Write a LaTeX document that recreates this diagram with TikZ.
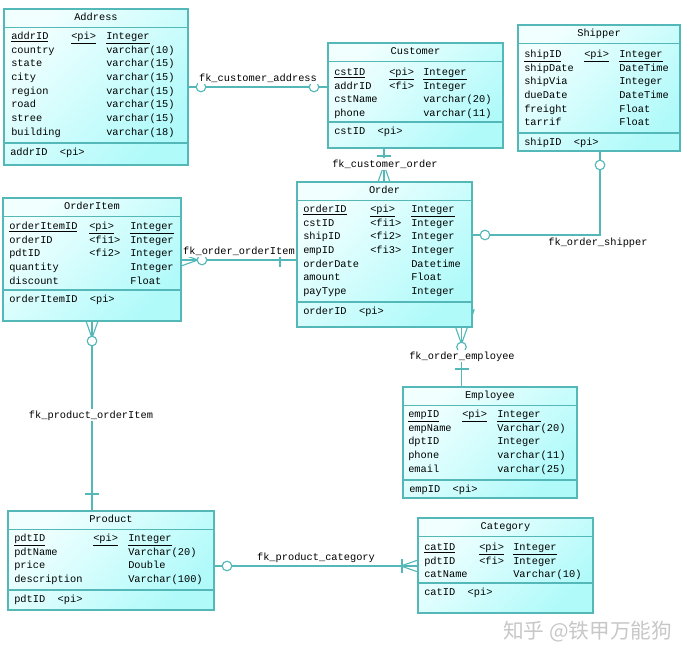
\documentclass[tikz,border=0pt]{standalone}
\usepackage{fontspec}
\setmonofont{Liberation Mono}
\newfontfamily\markfont{Noto Sans CJK SC}
\usepackage{tikz}
\definecolor{edgeteal}{HTML}{55B8B8}
\definecolor{paleaqua}{HTML}{F2FFFF}
\definecolor{deepaqua}{HTML}{B0FAFA}
\tikzset{
	entitybox/.style={draw=edgeteal, line width=0.85pt, shading=axis, top color=paleaqua, bottom color=deepaqua, shading angle=45, inner sep=0pt, outer sep=0pt, anchor=north west},
	entityline/.style={draw=edgeteal, line width=0.85pt},
	relline/.style={draw=edgeteal, line width=0.85pt},
	optcircle/.style={circle, draw=edgeteal, line width=0.85pt, fill=white, minimum size=7.2pt, inner sep=0pt},
	erhead/.style={font=\ttfamily\fontsize{7.75}{9}\selectfont, inner sep=0pt, text height=7pt, text depth=2pt},
	attrtext/.style={erhead, anchor=west},
	fklabel/.style={erhead, text height=6pt, text depth=1.5pt, fill=white, inner xsep=1pt, inner ysep=0.5pt}
}
\newcommand{\entity}[8]{
	\node[entitybox, minimum width={(#5-#3)*0.75pt}, minimum height={(#6-#4)*0.75pt}] (#1) at (#3,#4) {};
	\draw[entityline] (#1.west |- 0,{#4+18.5}) -- (#1.east |- 0,{#4+18.5});
	\draw[entityline] (#1.west |- 0,#7) -- (#1.east |- 0,#7);
	\node[erhead] (#1-title) at (#1.north |- 0,{#4+8.3}) {#2};
	\node[attrtext] (#1-key) at ({#3+6},{#7+9}) {#8};
}
\newcommand{\attrs}[6]{
	\foreach \fname/\fkey/\ftype [count=\i] in {#6} {
		\node[attrtext] (#1-a\i) at (#2,{#5+(\i-1)*13.7}) {\fname};
		\ifx\fkey\empty\else
			\node[attrtext] (#1-k\i) at (#3,{#5+(\i-1)*13.7}) {\fkey};
		\fi
		\node[attrtext] (#1-t\i) at (#4,{#5+(\i-1)*13.7}) {\ftype};
	}
}
\newcommand{\crowfoot}{\draw[relline] (0,-6) -- (17,0);
					\draw[relline] (0,0) -- (17,0);
					\draw[relline] (0,6) -- (17,0);}
\newcommand{\crossbar}{\draw[relline] (0,-7) -- (0,7);}
\begin{document}
\begin{tikzpicture}[x=0.75pt, y=-0.75pt]
	\useasboundingbox (0,0) rectangle (689,658);

	\entity{address}{Address}{4}{9}{188}{165}{143}{addrID~~<pi>}
	\attrs{address}{11}{71}{106}{36}{\underline{addrID}/\underline{<pi>}/\underline{Integer}, country//varchar(10), state//varchar(15), city//varchar(15), region//varchar(15), road//varchar(15), stree//varchar(15), building//varchar(18)}

	\entity{customer}{Customer}{328}{43}{503}{148}{122}{cstID~~<pi>}
	\attrs{customer}{334}{389}{423}{72}{\underline{cstID}/\underline{<pi>}/\underline{Integer}, addrID/<fi>/Integer, cstName//varchar(20), phone//varchar(11)}

	\entity{shipper}{Shipper}{518}{25}{680}{151}{133}{shipID~~<pi>}
	\attrs{shipper}{524}{584}{619}{54}{\underline{shipID}/\underline{<pi>}/\underline{Integer}, shipDate//DateTime, shipVia//Integer, dueDate//DateTime, freight//Float, tarrif//Float}

	\entity{order}{Order}{297}{182}{472}{327}{302}{orderID~~<pi>}
	\attrs{order}{303}{370}{411}{209}{\underline{orderID}/\underline{<pi>}/\underline{Integer}, cstID/<fi1>/Integer, shipID/<fi2>/Integer, empID/<fi3>/Integer, orderDate//Datetime, amount//Float, payType//Integer}

	\entity{orderitem}{OrderItem}{3}{198}{181}{321}{290}{orderItemID~~<pi>}
	\attrs{orderitem}{9}{89}{130}{226}{\underline{orderItemID}/\underline{<pi>}/\underline{Integer}, orderID/<fi1>/Integer, pdtID/<fi2>/Integer, quantity//Integer, discount//Float}

	\entity{employee}{Employee}{403}{387}{577}{498}{480}{empID~~<pi>}
	\attrs{employee}{408}{462}{497}{414}{\underline{empID}/\underline{<pi>}/\underline{Integer}, empName//Varchar(20), dptID//Integer, phone//varchar(11), email//varchar(25)}

	\entity{product}{Product}{8}{511}{214}{610}{590}{pdtID~~<pi>}
	\attrs{product}{14}{93}{128}{538}{\underline{pdtID}/\underline{<pi>}/\underline{Integer}, pdtName//Varchar(20), price//Double, description//Varchar(100)}

	\entity{category}{Category}{418}{518}{593}{613}{583}{catID~~<pi>}
	\attrs{category}{424}{479}{513}{547}{\underline{catID}/\underline{<pi>}/\underline{Integer}, pdtID/<fi>/Integer, catName//Varchar(10)}

	\coordinate (fkca) at (258,87);
	\coordinate (fkco) at (384,165);
	\coordinate (fkoi) at (239,260);
	\coordinate (fkoe) at (461.5,356);
	\coordinate (fkpo) at (92,415);
	\coordinate (fkpc) at (316,566);
	\coordinate (fkos) at (600,235);
	\coordinate (nick) at (474,310);

	\draw[relline] (address.east |- fkca) -- (customer.west |- fkca);
	\draw[relline] (customer.south -| fkco) -- (order.north -| fkco);
	\draw[relline] (orderitem.east |- fkoi) -- (order.west |- fkoi);
	\draw[relline] (order.south -| fkoe) -- (employee.north -| fkoe);
	\draw[relline] (orderitem.south -| fkpo) -- (product.north -| fkpo);
	\draw[relline] (product.east |- fkpc) -- (category.west |- fkpc);
	\draw[relline] (shipper.south -| fkos) -- (fkos) -- (order.east |- fkos);
	\draw[relline] (order.east |- nick) -- (nick) -- (order.east |- 0,316);

	\begin{scope}[shift={(384,182)}, rotate=90]
		\crowfoot
	\end{scope}
	\begin{scope}[shift={(181,260)}, rotate=0]
		\crowfoot
	\end{scope}
	\begin{scope}[shift={(461.5,327)}, rotate=-90]
		\crowfoot
	\end{scope}
	\begin{scope}[shift={(92,321)}, rotate=-90]
		\crowfoot
	\end{scope}
	\begin{scope}[shift={(418,566)}, rotate=180]
		\crowfoot
	\end{scope}

	\begin{scope}[shift={(384,156)}, rotate=90]
		\crossbar
	\end{scope}
	\begin{scope}[shift={(280,260)}, rotate=0]
		\crossbar
	\end{scope}
	\begin{scope}[shift={(461.5,369)}, rotate=90]
		\crossbar
	\end{scope}
	\begin{scope}[shift={(92,494)}, rotate=90]
		\crossbar
	\end{scope}
	\begin{scope}[shift={(402,566)}, rotate=0]
		\crossbar
	\end{scope}

	\node[optcircle] (ca1) at (201,87) {};
	\node[optcircle] (ca2) at (314,87) {};
	\node[optcircle] (oi1) at (202,260) {};
	\node[optcircle] (os1) at (600,165) {};
	\node[optcircle] (os2) at (485,235) {};
	\node[optcircle] (oe1) at (461.5,347) {};
	\node[optcircle] (po1) at (92,341) {};
	\node[optcircle] (pc1) at (227,566) {};

	\node[fklabel] (lbca) at (258,78.5) {fk\_customer\_address};
	\node[fklabel] (lbco) at (385,164) {fk\_customer\_order};
	\node[fklabel] (lboi) at (239,251) {fk\_order\_orderItem};
	\node[fklabel] (lboe) at (462,356) {fk\_order\_employee};
	\node[fklabel] (lbos) at (598,242) {fk\_order\_shipper};
	\node[fklabel] (lbpo) at (91,415) {fk\_product\_orderItem};
	\node[fklabel] (lbpc) at (316,557) {fk\_product\_category};

	\node[text=black!22, font=\markfont\fontsize{15.5}{18}\selectfont, anchor=west, inner sep=0pt] (zhihu) at (503,632) {知乎 @铁甲万能狗};
\end{tikzpicture}
\end{document}
